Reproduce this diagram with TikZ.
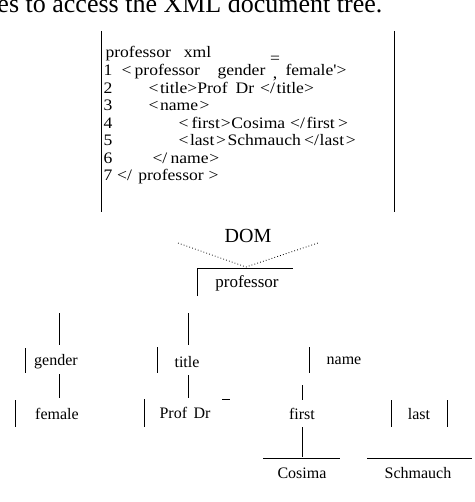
\documentclass[tikz,border=0pt]{standalone}
\usepackage{fontspec}
\setmainfont{Liberation Serif}
\newfontfamily\codefont[FakeStretch=1.1]{Liberation Serif}

\tikzset{every picture/.style={line width=1pt}}
\tikzset{
  codeline/.style={anchor=base west, inner sep=0pt, font=\codefont\fontsize{16}{18}\selectfont},
  treelabel/.style={inner sep=0pt, font=\fontsize{16}{18}\selectfont},
  scandots/.style={line width=0.8pt, dash pattern=on 0.8pt off 2.2pt},
}

\begin{document}
\begin{tikzpicture}[x=1pt,y=1pt,yscale=-1,xscale=1]
\useasboundingbox (0,0) rectangle (474,502);

% Text Node
\node (caption) at (-3,12.5) [anchor=base west, inner sep=0pt, font=\fontsize{26}{28}\selectfont] {es to access the XML document tree.};

%Straight Lines [id:frame]
\coordinate (frameTL) at (101,31);
\coordinate (frameBL) at (101,212);
\coordinate (frameTR) at (394,31);
\coordinate (frameBR) at (394,212);
\draw (frameTL) -- (frameBL);
\draw (frameTR) -- (frameBR);

% Text Node
\node (xmlhead) at (105,58) [codeline] {professor\hspace{0.8em}xml};
% Text Node
\node (num1) at (103,76) [codeline] {1};
\node (xml1) at (121,76) [codeline] {<\hspace{0.2em}professor};
\node (xml1g) at (217,76) [codeline] {gender};
\node (eqsign) at (275,64) [codeline, anchor=base] {=};
\node (comma) at (275,78.5) [codeline, anchor=base] {,};
\node (xml1b) at (285,76) [codeline] {female'>};
% Text Node
\node (num2) at (103,93.5) [codeline] {2};
\node (xml2) at (148,93.5) [codeline] {<\hspace{0.1em}title>Prof\hspace{0.5em}Dr\hspace{0.1em} </\hspace{0.1em}title>};
% Text Node
\node (num3) at (103,111) [codeline] {3};
\node (xml3) at (148,111) [codeline] {<\hspace{0.1em}name\hspace{0.1em}>};
% Text Node
\node (num4) at (103,128.5) [codeline] {4};
\node (xml4) at (178,128.5) [codeline] {<\hspace{0.2em}first\hspace{0.05em}>\hspace{0.05em}Cosima\hspace{0.3em}</\hspace{0.1em}first\hspace{0.2em}>};
% Text Node
\node (num5) at (103,146) [codeline] {5};
\node (xml5) at (178,146) [codeline] {<\hspace{0.1em}last\hspace{0.1em}>\hspace{0.1em}Schmauch\hspace{0.2em}</\hspace{0.05em}last\hspace{0.1em}>};
% Text Node
\node (num6) at (103,163.5) [codeline] {6};
\node (xml6) at (152,163.5) [codeline] {</\hspace{0.2em}name\hspace{0.05em}>};
% Text Node
\node (xml7) at (103,181) [codeline] {7\hspace{0.3em}</\hspace{0.4em}professor\hspace{0.3em}>};

% Text Node
\node (dom) at (248,236) [inner sep=0pt, font=\fontsize{20}{22}\selectfont] {DOM};
%Dotted Lines [id:domfan]
\coordinate (domL) at (178,243);
\coordinate (domV) at (246,267);
\coordinate (domR) at (318,243);
\draw [scandots] (domL) -- (domV) -- (domR);

% Text Node
\node (professor) at (247,283) [treelabel, font=\fontsize{17}{19}\selectfont] {professor};
%Straight Lines [id:profbox]
\coordinate (profBL) at (197,296);
\coordinate (profTL) at (197,268);
\coordinate (profTR) at (293,268);
\draw (profBL) -- (profTL) -- (profTR);

% Text Node
\node (gender) at (56,362) [treelabel] {gender};
\node (female) at (57,414) [treelabel] {female};
%Straight Lines [id:genderbranch]
\coordinate (genUp1) at (59,313);
\coordinate (genUp2) at (59,345);
\coordinate (genBar1) at (25,348);
\coordinate (genBar2) at (25,373);
\coordinate (genDn1) at (59,374);
\coordinate (genDn2) at (59,398);
\coordinate (femBar1) at (15,400);
\coordinate (femBar2) at (15,427);
\draw (genUp1) -- (genUp2);
\draw (genBar1) -- (genBar2);
\draw (genDn1) -- (genDn2);
\draw (femBar1) -- (femBar2);

% Text Node
\node (title) at (187,362) [treelabel] {title};
\node (profdr) at (185,413) [treelabel] {Prof\hspace{0.4em}Dr};
%Straight Lines [id:titlebranch]
\coordinate (titUp1) at (188,313);
\coordinate (titUp2) at (188,345);
\coordinate (titBar1) at (157,347);
\coordinate (titBar2) at (157,373);
\coordinate (titDn1) at (188,375);
\coordinate (titDn2) at (188,398);
\coordinate (drBar1) at (144,399);
\coordinate (drBar2) at (144,427);
\coordinate (drTick1) at (222,399);
\coordinate (drTick2) at (230,399);
\draw (titUp1) -- (titUp2);
\draw (titBar1) -- (titBar2);
\draw (titDn1) -- (titDn2);
\draw (drBar1) -- (drBar2);
\draw (drTick1) -- (drTick2);

% Text Node
\node (name) at (344,361) [treelabel] {name};
\node (first) at (302,414) [treelabel] {first};
\node (last) at (419,414) [treelabel] {last};
\node (cosima) at (302,473) [treelabel] {Cosima};
\node (schmauch) at (418,473) [treelabel] {Schmauch};
%Straight Lines [id:namebranch]
\coordinate (nameBar1) at (309,347);
\coordinate (nameBar2) at (309,373);
\coordinate (firUp1) at (302,385);
\coordinate (firUp2) at (302,400);
\coordinate (firDn1) at (302,427);
\coordinate (firDn2) at (302,457);
\coordinate (lastBarL1) at (391,400);
\coordinate (lastBarL2) at (391,427);
\coordinate (lastBarR1) at (447,400);
\coordinate (lastBarR2) at (447,427);
\coordinate (cosL) at (263,458);
\coordinate (cosR) at (340,458);
\coordinate (schL) at (367,458);
\coordinate (schR) at (472,458);
\draw (nameBar1) -- (nameBar2);
\draw (firUp1) -- (firUp2);
\draw (firDn1) -- (firDn2);
\draw (lastBarL1) -- (lastBarL2);
\draw (lastBarR1) -- (lastBarR2);
\draw (cosL) -- (cosR);
\draw (schL) -- (schR);

\end{tikzpicture}
\end{document}
